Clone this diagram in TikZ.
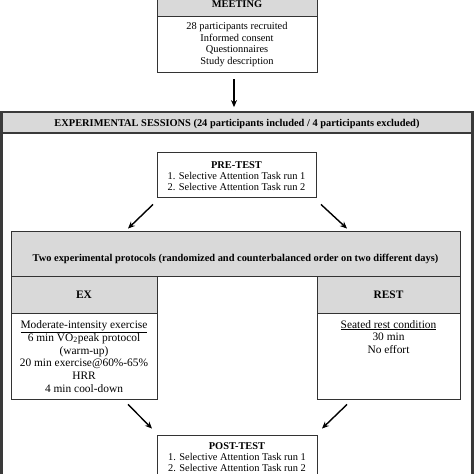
\documentclass[tikz,border=0pt]{standalone}
\usepackage{fontspec}
\setmainfont{Liberation Serif}
\usetikzlibrary{arrows.meta}
\definecolor{hdr}{HTML}{D9D9D9}
\definecolor{frm}{HTML}{3A3A3A}
\definecolor{ln}{HTML}{333333}
\begin{document}
\begin{tikzpicture}[x=1pt,y=-1pt,
  box/.style={draw=ln,line width=0.9pt,inner sep=0pt},
  hbox/.style={box,fill=hdr},
  txt/.style={font=\fontsize{10.4pt}{11.7pt}\selectfont,align=center,inner sep=0pt},
  btxt/.style={font=\fontsize{10.4pt}{11.7pt}\selectfont\bfseries,align=center,inner sep=0pt},
  bigtxt/.style={font=\fontsize{11.4pt}{12.8pt}\selectfont,align=center,inner sep=0pt},
  bigbtxt/.style={font=\fontsize{11.4pt}{12.8pt}\selectfont\bfseries,align=center,inner sep=0pt},
  arr/.style={-{Stealth[length=7pt,width=6pt]},line width=1.4pt,draw=black}]
\useasboundingbox (0,0) rectangle (474,474);
\clip (0,0) rectangle (474,474);
\fill[white] (0,0) rectangle (474,474);
% outer frame
\node[draw=frm,line width=3pt,minimum width=471pt,minimum height=390pt,inner sep=0pt] (outer) at (237,307) {};
\node[draw=frm,line width=1.8pt,fill=hdr,minimum width=469pt,minimum height=21pt,inner sep=0pt] (outerhead) at (237,122.5) {};
\node[btxt] (outert) at (237,124) {EXPERIMENTAL SESSIONS (24 participants included / 4 participants excluded)};
% meeting
\node[hbox,minimum width=160pt,minimum height=22pt] (meethead) at (237,5) {};
\node[btxt] (meett) at (237,4) {MEETING};
\node[box,minimum width=160pt,minimum height=56pt] (meetbody) at (237,44) {};
\node[txt] (meetbt) at (237,44.5) {28 participants recruited\\Informed consent\\Questionnaires\\Study description};
% pretest
\node[box,minimum width=159pt,minimum height=45pt] (pre) at (236.5,174.5) {};
\node[txt,font=\fontsize{10.4pt}{11pt}\selectfont] (pret) at (236.5,176) {\textbf{PRE-TEST}\\1. Selective Attention Task run 1\\2. Selective Attention Task run 2};
% protocols
\node[hbox,minimum width=449pt,minimum height=45pt] (proto) at (235.5,253.5) {};
\node[btxt] (protot) at (235.5,259) {Two experimental protocols (randomized and counterbalanced order on two different days)};
\node[hbox,minimum width=146pt,minimum height=37pt] (exhead) at (84,294.5) {};
\node[bigbtxt] (exht) at (84,295) {EX};
\node[hbox,minimum width=143pt,minimum height=37pt] (resthead) at (388.5,294.5) {};
\node[bigbtxt] (restht) at (388.5,295) {REST};
\node[box,minimum width=146pt,minimum height=86pt] (exbody) at (84,356) {};
\node[bigtxt] (exbt) at (84,356.5) {\underline{Moderate-intensity exercise}\\6 min VO\textsubscript{2}peak protocol\\(warm-up)\\20 min exercise@60\%-65\%\\HRR\\4 min cool-down};
\node[box,minimum width=143pt,minimum height=86pt] (restbody) at (388.5,356) {};
\node[bigtxt] (restbt) at (388.5,337) {\underline{Seated rest condition}\\30 min\\No effort};
% posttest
\node[box,minimum width=160pt,minimum height=50pt] (post) at (237,460) {};
\node[txt,font=\fontsize{10.4pt}{11pt}\selectfont] (postt) at (237,457.5) {\textbf{POST-TEST}\\1. Selective Attention Task run 1\\2. Selective Attention Task run 2};
% arrows
\draw[arr] ([xshift=-3pt,yshift=-7pt]meetbody.south) -- ([xshift=-3pt,yshift=4pt]outerhead.north);
\draw[arr] ([xshift=-83.5pt,yshift=-7pt]pre.south) -- ([xshift=-107.5pt,yshift=2pt]proto.north);
\draw[arr] ([xshift=84.5pt,yshift=-7pt]pre.south) -- ([xshift=111.5pt,yshift=2pt]proto.north);
\draw[arr] ([xshift=44pt,yshift=-5pt]exbody.south) -- ([xshift=-85pt,yshift=6pt]post.north);
\draw[arr] ([xshift=-41.5pt,yshift=-5pt]restbody.south) -- ([xshift=85pt,yshift=6pt]post.north);
\end{tikzpicture}
\end{document}
